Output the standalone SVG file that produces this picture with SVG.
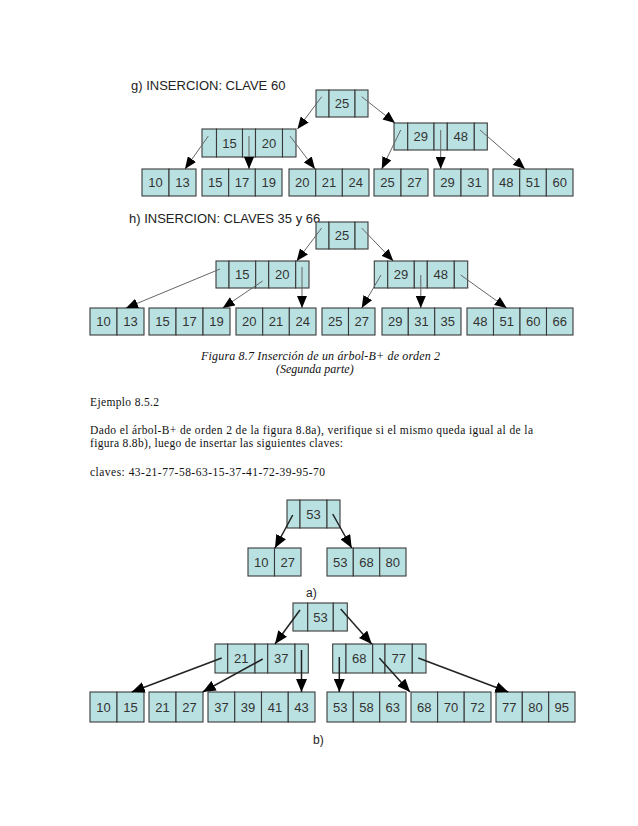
<svg xmlns="http://www.w3.org/2000/svg" width="638" height="826" viewBox="0 0 638 826">
<style>
.c{fill:#bae1e1;stroke:#3a3a3a;stroke-width:1.1}
.k{font-family:"Liberation Sans",Arial,sans-serif;font-size:13px;fill:#333;text-anchor:middle}
.t{font-family:"Liberation Sans",Arial,sans-serif;font-size:13px;fill:#222}
.s{font-family:"Liberation Sans",Arial,sans-serif;font-size:12px;fill:#222}
.b{font-family:"Liberation Serif","Times New Roman",serif;font-size:11.5px;fill:#111}
.i{font-family:"Liberation Serif","Times New Roman",serif;font-size:12px;fill:#111;font-style:italic}
.a1{stroke:#666;stroke-width:1;fill:none;marker-end:url(#m1)}
.a2{stroke:#222;stroke-width:1.5;fill:none;marker-end:url(#m2)}
</style>
<defs>
<marker id="m1" markerUnits="userSpaceOnUse" markerWidth="13" markerHeight="10" refX="12" refY="5" orient="auto"><path d="M0,0 L12,5 L0,10 z" fill="#000"/></marker>
<marker id="m2" markerUnits="userSpaceOnUse" markerWidth="14" markerHeight="11" refX="13" refY="5.5" orient="auto"><path d="M0,0 L13,5.5 L0,11 z" fill="#000"/></marker>
</defs>
<rect width="638" height="826" fill="#fff"/>

<text class="t" x="131" y="90">g) INSERCION: CLAVE 60</text>
<text class="t" x="129" y="223">h) INSERCION: CLAVES 35 y 66</text>

<!-- g tree -->
<g id="g-root"><rect class="c" x="316" y="90" width="13" height="27"/><rect class="c" x="329" y="90" width="26" height="27"/><rect class="c" x="355" y="90" width="13" height="27"/><text class="k" x="342" y="108">25</text></g>
<g id="g-int-left"><rect class="c" x="202" y="129" width="14.5" height="28"/><rect class="c" x="216.5" y="129" width="26" height="28"/><rect class="c" x="242.5" y="129" width="13" height="28"/><rect class="c" x="255.5" y="129" width="27" height="28"/><rect class="c" x="282.5" y="129" width="13.5" height="28"/><text class="k" x="229.5" y="147.5">15</text><text class="k" x="269" y="147.5">20</text></g>
<g id="g-int-right"><rect class="c" x="394" y="123" width="13.7" height="27"/><rect class="c" x="407.7" y="123" width="26.3" height="27"/><rect class="c" x="434" y="123" width="13.3" height="27"/><rect class="c" x="447.3" y="123" width="27" height="27"/><rect class="c" x="474.3" y="123" width="13" height="27"/><text class="k" x="420.8" y="141">29</text><text class="k" x="460.8" y="141">48</text></g>
<g id="g-leaf1"><rect class="c" x="142" y="169" width="27" height="27"/><rect class="c" x="169" y="169" width="27" height="27"/><text class="k" x="155.5" y="187">10</text><text class="k" x="182.5" y="187">13</text></g>
<g id="g-leaf2"><rect class="c" x="202" y="169" width="26.7" height="27"/><rect class="c" x="228.7" y="169" width="26.7" height="27"/><rect class="c" x="255.3" y="169" width="26.7" height="27"/><text class="k" x="215.3" y="187">15</text><text class="k" x="242" y="187">17</text><text class="k" x="268.7" y="187">19</text></g>
<g id="g-leaf3"><rect class="c" x="289" y="169" width="26.7" height="27"/><rect class="c" x="315.7" y="169" width="26.7" height="27"/><rect class="c" x="342.3" y="169" width="26.7" height="27"/><text class="k" x="302.3" y="187">20</text><text class="k" x="329" y="187">21</text><text class="k" x="355.7" y="187">24</text></g>
<g id="g-leaf4"><rect class="c" x="374" y="169" width="27" height="27"/><rect class="c" x="401" y="169" width="27" height="27"/><text class="k" x="387.5" y="187">25</text><text class="k" x="414.5" y="187">27</text></g>
<g id="g-leaf5"><rect class="c" x="434" y="169" width="27" height="27"/><rect class="c" x="461" y="169" width="27" height="27"/><text class="k" x="447.5" y="187">29</text><text class="k" x="474.5" y="187">31</text></g>
<g id="g-leaf6"><rect class="c" x="493" y="169" width="26.7" height="27"/><rect class="c" x="519.7" y="169" width="26.7" height="27"/><rect class="c" x="546.3" y="169" width="26.7" height="27"/><text class="k" x="506.3" y="187">48</text><text class="k" x="533" y="187">51</text><text class="k" x="559.7" y="187">60</text></g>

<!-- h tree -->
<g id="h-root"><rect class="c" x="316" y="222" width="13" height="27"/><rect class="c" x="329" y="222" width="26" height="27"/><rect class="c" x="355" y="222" width="13" height="27"/><text class="k" x="342" y="240">25</text></g>
<g id="h-int-left"><rect class="c" x="216" y="261" width="13" height="27"/><rect class="c" x="229" y="261" width="26.7" height="27"/><rect class="c" x="255.7" y="261" width="13" height="27"/><rect class="c" x="268.7" y="261" width="27" height="27"/><rect class="c" x="295.7" y="261" width="13.3" height="27"/><text class="k" x="242.3" y="279">15</text><text class="k" x="282.2" y="279">20</text></g>
<g id="h-int-right"><rect class="c" x="374.3" y="261" width="13.4" height="27"/><rect class="c" x="387.7" y="261" width="26.6" height="27"/><rect class="c" x="414.3" y="261" width="13" height="27"/><rect class="c" x="427.3" y="261" width="27" height="27"/><rect class="c" x="454.3" y="261" width="13.4" height="27"/><text class="k" x="401" y="279">29</text><text class="k" x="440.8" y="279">48</text></g>
<g id="h-leaf1"><rect class="c" x="90" y="308" width="27" height="27"/><rect class="c" x="117" y="308" width="27" height="27"/><text class="k" x="103.5" y="326">10</text><text class="k" x="130.5" y="326">13</text></g>
<g id="h-leaf2"><rect class="c" x="149" y="308" width="27" height="27"/><rect class="c" x="176" y="308" width="27" height="27"/><rect class="c" x="203" y="308" width="27" height="27"/><text class="k" x="162.5" y="326">15</text><text class="k" x="189.5" y="326">17</text><text class="k" x="216.5" y="326">19</text></g>
<g id="h-leaf3"><rect class="c" x="236" y="308" width="26.7" height="27"/><rect class="c" x="262.7" y="308" width="26.7" height="27"/><rect class="c" x="289.3" y="308" width="26.7" height="27"/><text class="k" x="249.3" y="326">20</text><text class="k" x="276" y="326">21</text><text class="k" x="302.7" y="326">24</text></g>
<g id="h-leaf4"><rect class="c" x="322" y="308" width="26.5" height="27"/><rect class="c" x="348.5" y="308" width="26.5" height="27"/><text class="k" x="335.3" y="326">25</text><text class="k" x="361.8" y="326">27</text></g>
<g id="h-leaf5"><rect class="c" x="382" y="308" width="26.3" height="27"/><rect class="c" x="408.3" y="308" width="26.4" height="27"/><rect class="c" x="434.7" y="308" width="26.3" height="27"/><text class="k" x="395.2" y="326">29</text><text class="k" x="421.5" y="326">31</text><text class="k" x="447.8" y="326">35</text></g>
<g id="h-leaf6"><rect class="c" x="467" y="308" width="26.5" height="27"/><rect class="c" x="493.5" y="308" width="26.5" height="27"/><rect class="c" x="520" y="308" width="26.5" height="27"/><rect class="c" x="546.5" y="308" width="26.5" height="27"/><text class="k" x="480.3" y="326">48</text><text class="k" x="506.8" y="326">51</text><text class="k" x="533.3" y="326">60</text><text class="k" x="559.8" y="326">66</text></g>

<!-- a tree -->
<g id="a-root"><rect class="c" x="287" y="500" width="13" height="28"/><rect class="c" x="300" y="500" width="27" height="28"/><rect class="c" x="327" y="500" width="13" height="28"/><text class="k" x="313.5" y="518.5">53</text></g>
<g id="a-leaf1"><rect class="c" x="248" y="548" width="26.5" height="28"/><rect class="c" x="274.5" y="548" width="26.5" height="28"/><text class="k" x="261.3" y="566.5">10</text><text class="k" x="287.8" y="566.5">27</text></g>
<g id="a-leaf2"><rect class="c" x="327" y="548" width="26.3" height="28"/><rect class="c" x="353.3" y="548" width="26.4" height="28"/><rect class="c" x="379.7" y="548" width="26.3" height="28"/><text class="k" x="340.2" y="566.5">53</text><text class="k" x="366.5" y="566.5">68</text><text class="k" x="392.8" y="566.5">80</text></g>
<text class="s" x="306" y="597">a)</text>

<!-- b tree -->
<g id="b-root"><rect class="c" x="293" y="603" width="14.7" height="28"/><rect class="c" x="307.7" y="603" width="25.6" height="28"/><rect class="c" x="333.3" y="603" width="14" height="28"/><text class="k" x="320.5" y="621.5">53</text></g>
<g id="b-int-left"><rect class="c" x="215" y="644" width="12.7" height="29"/><rect class="c" x="227.7" y="644" width="27.3" height="29"/><rect class="c" x="255" y="644" width="12.7" height="29"/><rect class="c" x="267.7" y="644" width="27.3" height="29"/><rect class="c" x="295" y="644" width="13.3" height="29"/><text class="k" x="241.3" y="663">21</text><text class="k" x="281.3" y="663">37</text></g>
<g id="b-int-right"><rect class="c" x="332.7" y="644" width="13.3" height="29"/><rect class="c" x="346" y="644" width="26.7" height="29"/><rect class="c" x="372.7" y="644" width="12.3" height="29"/><rect class="c" x="385" y="644" width="27.3" height="29"/><rect class="c" x="412.3" y="644" width="13.7" height="29"/><text class="k" x="359.3" y="663">68</text><text class="k" x="398.7" y="663">77</text></g>
<g id="b-leaf1"><rect class="c" x="90" y="692" width="27" height="30"/><rect class="c" x="117" y="692" width="27" height="30"/><text class="k" x="103.5" y="711.5">10</text><text class="k" x="130.5" y="711.5">15</text></g>
<g id="b-leaf2"><rect class="c" x="149" y="692" width="27" height="30"/><rect class="c" x="176" y="692" width="27" height="30"/><text class="k" x="162.5" y="711.5">21</text><text class="k" x="189.5" y="711.5">27</text></g>
<g id="b-leaf3"><rect class="c" x="208" y="692" width="26.75" height="30"/><rect class="c" x="234.75" y="692" width="26.75" height="30"/><rect class="c" x="261.5" y="692" width="26.75" height="30"/><rect class="c" x="288.25" y="692" width="26.75" height="30"/><text class="k" x="221.4" y="711.5">37</text><text class="k" x="248.1" y="711.5">39</text><text class="k" x="274.9" y="711.5">41</text><text class="k" x="301.6" y="711.5">43</text></g>
<g id="b-leaf4"><rect class="c" x="327" y="692" width="26.3" height="30"/><rect class="c" x="353.3" y="692" width="26.4" height="30"/><rect class="c" x="379.7" y="692" width="26.3" height="30"/><text class="k" x="340.2" y="711.5">53</text><text class="k" x="366.5" y="711.5">58</text><text class="k" x="392.8" y="711.5">63</text></g>
<g id="b-leaf5"><rect class="c" x="411" y="692" width="26.6" height="30"/><rect class="c" x="437.6" y="692" width="26.6" height="30"/><rect class="c" x="464.2" y="692" width="26.8" height="30"/><text class="k" x="424.3" y="711.5">68</text><text class="k" x="450.9" y="711.5">70</text><text class="k" x="477.5" y="711.5">72</text></g>
<g id="b-leaf6"><rect class="c" x="496" y="692" width="26.3" height="30"/><rect class="c" x="522.3" y="692" width="26.4" height="30"/><rect class="c" x="548.7" y="692" width="26.3" height="30"/><text class="k" x="509.2" y="711.5">77</text><text class="k" x="535.5" y="711.5">80</text><text class="k" x="561.8" y="711.5">95</text></g>
<text class="s" x="313" y="744">b)</text>

<g id="connectors">
<line class="a1" x1="321.7" y1="96.7" x2="297.5" y2="129"/>
<line class="a1" x1="361.7" y1="96.7" x2="395" y2="123"/>
<line class="a1" x1="208.3" y1="136" x2="185" y2="169"/>
<line class="a1" x1="249" y1="136" x2="249" y2="169"/>
<line class="a1" x1="290" y1="136" x2="315" y2="169"/>
<line class="a1" x1="400.7" y1="130" x2="381.7" y2="169"/>
<line class="a1" x1="440.7" y1="130" x2="440.7" y2="169"/>
<line class="a1" x1="480" y1="130" x2="525" y2="169"/>

<line class="a1" x1="321.7" y1="228" x2="296.7" y2="261"/>
<line class="a1" x1="361.7" y1="228" x2="393.3" y2="261"/>
<line class="a1" x1="220" y1="269" x2="126" y2="308"/>
<line class="a1" x1="262.7" y1="281" x2="222.7" y2="308"/>
<line class="a1" x1="302" y1="267" x2="302" y2="308"/>
<line class="a1" x1="381" y1="275" x2="361.7" y2="308"/>
<line class="a1" x1="420.8" y1="275" x2="420.8" y2="308"/>
<line class="a1" x1="460.7" y1="275" x2="506.7" y2="308"/>

<line class="a2" x1="292.7" y1="515" x2="275" y2="548"/>
<line class="a2" x1="332.7" y1="514" x2="351.7" y2="548"/>

<line class="a2" x1="300" y1="610" x2="275" y2="644"/>
<line class="a2" x1="340.7" y1="609" x2="371.7" y2="644"/>
<line class="a2" x1="221.7" y1="658" x2="131.7" y2="692"/>
<line class="a2" x1="262.7" y1="659" x2="202.7" y2="692"/>
<line class="a2" x1="301.5" y1="650" x2="301.5" y2="692"/>
<line class="a2" x1="339.3" y1="657" x2="339.3" y2="692"/>
<line class="a2" x1="379.3" y1="658" x2="410" y2="692"/>
<line class="a2" x1="418.3" y1="658" x2="508.3" y2="692"/>
</g>

<text class="i" x="201" y="360" textLength="239" lengthAdjust="spacing">Figura 8.7 Inserción de un árbol-B+ de orden 2</text>
<text class="i" x="276" y="373">(Segunda parte)</text>
<text class="b" x="90" y="406" textLength="69" lengthAdjust="spacing">Ejemplo 8.5.2</text>
<text class="b" x="90" y="434" textLength="443" lengthAdjust="spacing">Dado el árbol-B+ de orden 2 de la figura 8.8a), verifique si el mismo queda igual al de la</text>
<text class="b" x="90" y="447" textLength="253" lengthAdjust="spacing">figura 8.8b), luego de insertar las siguientes claves:</text>
<text class="b" x="90" y="476" textLength="235" lengthAdjust="spacing">claves: 43-21-77-58-63-15-37-41-72-39-95-70</text>
</svg>
